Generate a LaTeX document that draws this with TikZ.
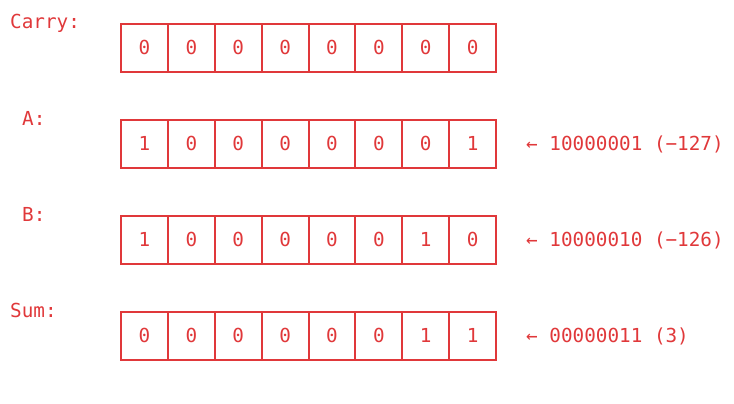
\documentclass[tikz,border=0pt]{standalone}
\usepackage{fontspec}
\setmonofont{DejaVu Sans Mono}
\definecolor{bitred}{RGB}{224,56,58}
\begin{document}
\begin{tikzpicture}[x=1pt,y=-1pt,
  every node/.style={text=bitred,font=\ttfamily\fontsize{19.3}{22}\selectfont},
  cell/.style={draw=bitred,line width=2pt,minimum width=46.875pt,minimum height=48pt,inner sep=0pt,text height=12.5pt,text depth=0pt},
  rowlabel/.style={anchor=base west,inner sep=0pt},
  note/.style={anchor=base west,inner sep=0pt}]
\useasboundingbox (0,0) rectangle (734,404);
% labels
\node[rowlabel] (lc) at (10,29) {Carry:};
\node[rowlabel] (la) at (22,125) {A:};
\node[rowlabel] (lb) at (22,221) {B:};
\node[rowlabel] (ls) at (10,317) {Sum:};
% rows
\foreach \r/\top/\bits in {c/24/{0,0,0,0,0,0,0,0}, a/120/{1,0,0,0,0,0,0,1}, b/216/{1,0,0,0,0,0,1,0}, s/312/{0,0,0,0,0,0,1,1}}{
  \foreach \b [count=\i from 0] in \bits {
    \node[cell] (\r-\i) at ({121+46.875*(\i+0.5)},{\top+24}) {\b};
  }
}
% notes
\node[note] (na) at (526,150) {← 10000001 (−127)};
\node[note] (nb) at (526,246) {← 10000010 (−126)};
\node[note] (ns) at (526,342) {← 00000011 (3)};
\end{tikzpicture}
\end{document}
